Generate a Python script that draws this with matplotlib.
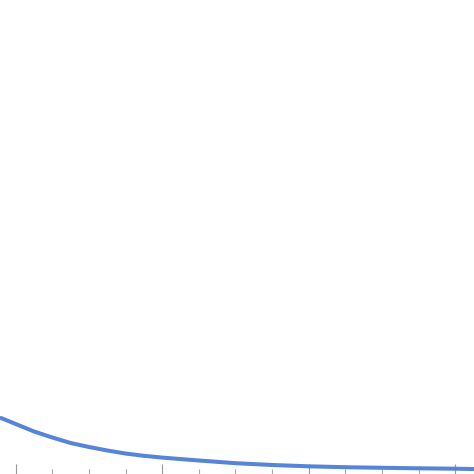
import numpy as np
import matplotlib
matplotlib.use('Agg')
import matplotlib.pyplot as plt
from matplotlib.ticker import MultipleLocator, NullFormatter

# 数据
x_vals = [-0.4, 0, 0.5, 1, 1.5, 2, 2.5, 3, 3.5, 4, 5, 6, 7, 8, 9, 10, 11, 12, 12.5]
y_vals = [11.81, 10.55, 8.97, 7.70, 6.54, 5.70, 4.96, 4.32, 3.84, 3.46,
          2.85, 2.28, 1.90, 1.62, 1.43, 1.31, 1.20, 1.12, 1.05]

fig = plt.figure(figsize=(4.74, 4.74), dpi=100)
ax = fig.add_axes([0, 0, 1, 1])

ax.plot(x_vals, y_vals, color='#5584d9', linewidth=2.9, solid_capstyle='round')

ax.set_xlim(-0.429, 12.512)
ax.set_ylim(0, 100)

# 刻度
ax.xaxis.set_major_locator(MultipleLocator(4))
ax.xaxis.set_minor_locator(MultipleLocator(1))
ax.xaxis.set_major_formatter(NullFormatter())
ax.tick_params(axis='x', which='major', direction='in', length=7.2, width=0.8, color='#999999')
ax.tick_params(axis='x', which='minor', direction='in', length=3.6, width=0.8, color='#aaaaaa')
ax.set_yticks([])
for s in ax.spines.values():
    s.set_visible(False)

plt.savefig('out.png', dpi=100)
